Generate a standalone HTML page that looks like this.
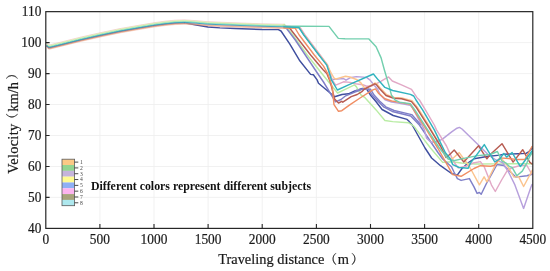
<!DOCTYPE html>
<html><head><meta charset="utf-8"><title>Velocity vs traveling distance</title>
<style>html,body{margin:0;padding:0;background:#fff}body{width:550px;height:271px;overflow:hidden;position:relative}</style></head>
<body>
<svg width="550" height="271" viewBox="0 0 550 271" style="position:absolute;left:0;top:0">
<rect width="550" height="271" fill="#fff"/>
<path d="M99.9 11.65 V228.4 M154.0 11.65 V228.4 M208.1 11.65 V228.4 M262.2 11.65 V228.4 M316.4 11.65 V228.4 M370.5 11.65 V228.4 M424.6 11.65 V228.4 M478.7 11.65 V228.4 M45.8 197.4 H532.8 M45.8 166.5 H532.8 M45.8 135.5 H532.8 M45.8 104.5 H532.8 M45.8 73.6 H532.8 M45.8 42.6 H532.8" stroke="#ededed" stroke-width="0.8" fill="none"/>
<clipPath id="c"><rect x="45.8" y="11.65" width="486.99999999999994" height="216.75"/></clipPath>
<g clip-path="url(#c)" fill="none" stroke-width="1.45" stroke-linejoin="round" stroke-linecap="round">
<polyline stroke="#3f4f9f" points="47.0,46.0 48.5,47.7 50.0,47.7 60.0,45.3 80.0,40.3 100.0,35.7 120.0,31.5 140.0,28.0 153.7,25.7 165.0,24.2 175.0,23.2 184.5,22.8 195.0,24.7 208.0,27.0 220.0,27.9 235.0,28.5 262.0,29.5 278.3,29.6 281.0,31.0 289.7,43.9 299.4,60.2 310.6,74.4 313.4,74.8 317.1,79.9 318.5,83.3 334.6,96.8 342.0,94.5 348.4,93.8 354.9,91.0 362.3,88.5 366.5,88.9 370.6,95.3 375.7,101.2 382.1,109.5 393.2,115.5 407.1,119.4 409.3,121.6 412.2,125.0 425.0,148.0 431.6,158.0 440.5,165.7 451.5,173.5 457.1,175.3 462.0,168.5 468.5,162.5 474.0,158.8 486.9,156.5 499.8,155.1 503.8,154.3 517.7,153.8 526.0,153.4 529.0,151.5 532.0,148.3"/>
<polyline stroke="#b9eca4" points="283.0,25.1 284.4,24.4 292.8,35.0 307.2,55.0 320.2,71.5 337.6,93.0 345.7,89.1 354.5,84.9 356.3,86.6 360.9,94.9 365.0,97.7 371.6,105.0 376.1,109.9 384.9,120.5 392.7,121.6 408.2,122.7 413.7,126.0 420.4,134.9 430.5,148.0 442.7,162.4 451.5,161.8 461.5,163.0 474.8,164.0 499.8,163.9 532.0,163.7"/>
<polyline stroke="#7f7fc8" points="284.0,27.4 286.6,28.5 295.3,40.0 318.0,74.0 323.5,82.0 335.5,101.8 341.0,99.5 345.7,95.8 354.9,92.1 362.3,89.4 368.5,89.3 372.3,95.3 378.0,101.2 384.0,107.2 393.2,111.8 410.7,116.0 419.4,125.0 434.9,148.0 438.3,153.0 442.7,159.0 451.5,166.8 454.0,172.0 457.4,178.6 461.1,180.4 469.4,178.6 474.0,186.9 477.1,193.4 479.4,192.5 481.2,194.3 486.8,182.8 497.0,164.5 503.8,165.5 515.8,177.1 526.9,175.7 532.0,174.2"/>
<polyline stroke="#7f7fc8" points="355.0,91.2 363.0,88.6 370.5,89.3 374.3,95.3 379.8,101.2 385.8,106.8 394.1,110.5 411.7,114.6 420.6,124.4"/>
<polyline stroke="#b7a0dc" points="284.0,26.7 297.0,27.2 299.3,27.5 304.2,35.0 319.3,55.0 327.1,65.1 329.8,73.5 331.8,79.5 335.0,79.4 343.5,78.5 346.0,80.2 350.0,77.8 356.3,76.6 366.5,77.4 370.1,80.1 373.8,84.8 377.8,89.5 380.0,94.5 385.0,99.8 391.6,102.0 398.2,103.1 410.4,105.4 412.6,108.0 424.4,129.9 426.6,138.3 431.0,142.3 436.0,141.8 442.1,139.4 452.0,131.6 457.0,128.2 459.4,127.4 462.0,129.0 482.3,148.7 489.0,155.4 496.0,160.0 502.9,162.8 508.5,172.0 514.9,184.9 523.6,208.4 530.7,187.8 532.0,184.5"/>
<polyline stroke="#e2a9c6" points="284.0,26.0 300.0,27.5 305.0,35.0 320.1,55.0 327.7,65.1 330.2,73.5 332.2,79.9 335.7,85.2 343.5,81.8 350.1,82.4 355.4,83.8 362.8,84.8 366.7,86.3 372.0,85.8 376.1,83.8 381.2,81.1 386.7,77.8 388.6,77.0 392.3,81.0 401.5,84.9 411.5,89.4 417.0,97.7 419.4,100.0 424.8,108.8 434.3,125.0 436.5,129.9 446.5,146.0 450.4,154.6 454.6,163.0 458.2,167.9 465.9,166.3 473.1,163.0 480.4,161.6 484.1,166.6 491.5,185.1 495.3,191.5 501.6,180.0 507.5,170.1 513.0,167.5 520.4,165.5 526.9,165.5 530.6,172.0 532.0,174.0"/>
<polyline stroke="#fbc48e" points="284.0,28.1 299.5,27.8 304.2,35.0 319.3,55.0 326.8,64.2 331.4,73.5 334.1,78.1 335.7,79.2 337.8,78.4 345.5,76.2 349.8,77.0 357.2,79.7 360.9,82.9 364.6,88.0 366.0,88.6 374.9,83.0 376.7,83.6 380.2,88.0 386.7,94.8 394.2,97.5 401.8,98.0 412.0,100.8 417.3,107.2 429.0,125.6 431.0,129.6 444.0,152.0 448.0,158.5 452.7,158.5 459.2,152.6 467.2,163.5 471.3,170.0 479.4,184.8 484.1,176.8 486.9,181.8 495.8,164.2 501.0,158.0 506.6,164.6 514.0,177.1 518.6,176.6 523.6,186.5 532.4,170.1"/>
<polyline stroke="#b75c52" points="284.0,27.2 289.4,27.7 295.0,35.0 310.6,55.0 323.1,69.8 326.8,73.5 329.5,79.9 331.0,84.5 334.6,99.1 338.5,103.0 341.8,101.3 342.8,102.2 351.2,96.6 357.2,94.5 362.3,91.3 364.5,89.0 374.8,83.8 376.1,84.4 379.4,88.5 386.0,95.5 393.8,98.3 401.5,98.8 411.5,101.6 416.6,107.8 428.2,126.2 440.5,146.0 446.0,157.5 450.0,154.2 454.2,150.0 463.8,162.0 478.6,145.8 486.9,158.8 490.0,154.8 502.0,143.7 513.1,162.1 522.7,149.7 529.7,162.1 532.0,164.0"/>
<polyline stroke="#f08e64" points="284.0,27.8 295.0,28.0 299.2,35.0 314.3,55.0 323.5,66.1 327.7,73.5 330.0,79.9 332.4,88.0 334.0,104.6 338.5,111.3 341.8,110.7 350.1,104.6 360.1,98.0 372.3,90.2 375.5,88.9 378.4,93.1 384.9,98.8 391.6,101.0 398.2,102.1 410.4,104.4 413.7,109.9 426.6,129.9 437.7,148.0 447.1,164.6 452.7,174.6 461.1,176.3 474.0,168.5 480.4,165.7 490.6,166.2 494.3,165.5 499.8,157.9 508.5,158.5 515.8,159.4 525.0,159.4 532.0,146.5"/>
<polyline stroke="#73cfae" points="284.0,26.1 300.0,26.2 329.0,26.4 338.3,38.4 345.0,38.8 368.9,38.9 376.1,46.8 381.1,57.9 384.4,70.0 388.8,84.9 391.4,94.9 394.9,99.9 399.3,102.1 410.4,103.8 414.8,109.9 427.7,129.9 439.4,148.0 448.2,159.0 453.8,160.7 463.8,158.4 477.7,155.6 490.0,154.5 497.4,151.5 502.0,161.2 505.7,162.8 509.4,166.5 512.1,167.4 516.8,175.7 522.3,171.1 526.9,162.8 530.0,156.0 532.0,153.0"/>
<polyline stroke="#30b3be" points="284.0,26.8 298.9,27.5 303.8,35.0 318.9,55.0 326.8,65.1 329.5,73.5 331.4,79.9 337.4,90.0 348.0,85.2 373.4,74.0 378.4,80.1 384.9,87.4 392.7,90.5 410.4,94.4 413.7,96.0 416.0,100.0 422.6,109.9 434.3,129.9 445.4,152.7 450.4,159.0 452.7,164.6 459.2,167.5 468.2,168.3 470.3,163.4 484.3,144.6 494.8,162.0 499.8,158.8 503.8,153.4 506.6,157.1 512.1,152.5 517.7,162.1 520.4,166.5 524.1,161.7 530.6,152.9 532.0,151.0"/>
<polyline stroke="#efb4b8" stroke-width="0.6" stroke-linecap="butt" points="47.0,43.0 48.5,44.8 50.0,44.8 60.0,42.3 80.0,37.3 100.0,32.8 120.0,28.6 140.0,25.1 153.7,22.8 165.0,21.2 175.0,20.2 184.5,19.9 195.0,20.6 207.8,21.7 235.0,22.8 262.0,23.8 284.0,24.2 284.3,24.2"/>
<polyline stroke="#e2f2a8" stroke-width="0.75" stroke-linecap="butt" points="47.0,43.6 48.5,45.3 50.0,45.3 60.0,42.9 80.0,37.9 100.0,33.3 120.0,29.1 140.0,25.6 153.7,23.3 165.0,21.8 175.0,20.8 184.5,20.4 195.0,21.1 207.8,22.2 235.0,23.3 262.0,24.3 284.0,24.8 284.3,24.8"/>
<polyline stroke="#b5eba6" stroke-width="0.75" stroke-linecap="butt" points="47.0,44.2 48.5,46.0 50.0,46.0 60.0,43.5 80.0,38.5 100.0,34.0 120.0,29.8 140.0,26.2 153.7,23.9 165.0,22.4 175.0,21.4 184.5,21.1 195.0,21.8 207.8,22.9 235.0,23.9 262.0,24.9 284.0,25.4 284.3,25.4"/>
<polyline stroke="#73cfae" stroke-width="0.75" stroke-linecap="butt" points="47.0,44.9 48.5,46.6 50.0,46.6 60.0,44.2 80.0,39.2 100.0,34.6 120.0,30.4 140.0,26.9 153.7,24.6 165.0,23.1 175.0,22.1 184.5,21.7 195.0,22.4 207.8,23.5 235.0,24.6 262.0,25.6 284.0,26.1 284.3,26.1"/>
<polyline stroke="#30b3be" stroke-width="0.95" stroke-linecap="butt" points="47.0,45.6 48.5,47.3 50.0,47.3 60.0,44.9 80.0,39.9 100.0,35.3 120.0,31.1 140.0,27.6 153.7,25.3 165.0,23.8 175.0,22.8 184.5,22.4 195.0,23.1 207.8,24.2 235.0,25.3 262.0,26.3 284.0,26.8 284.3,26.8"/>
<polyline stroke="#6f78c4" stroke-width="0.5" stroke-linecap="butt" points="47.0,46.2 48.5,47.9 50.0,47.9 60.0,45.5 80.0,40.5 100.0,35.9 120.0,31.7 140.0,28.2 153.7,25.9 165.0,24.4 175.0,23.4 184.5,23.0 195.0,23.7 207.8,24.8 235.0,25.9 262.0,26.9 284.0,27.4 284.3,27.4"/>
<polyline stroke="#f08e64" stroke-width="0.45" stroke-linecap="butt" points="47.0,46.5 48.5,48.2 50.0,48.2 60.0,45.8 80.0,40.8 100.0,36.2 120.0,32.0 140.0,28.6 153.7,26.2 165.0,24.8 175.0,23.8 184.5,23.4 195.0,24.1 207.8,25.2 235.0,26.2 262.0,27.2 284.0,27.8 284.3,27.8"/>
<polyline stroke="#f9b87e" stroke-width="0.6" stroke-linecap="butt" points="47.0,47.0 48.5,48.7 50.0,48.7 60.0,46.2 80.0,41.2 100.0,36.7 120.0,32.5 140.0,28.9 153.7,26.6 165.0,25.1 175.0,24.1 184.5,23.8 195.0,24.4 207.8,25.6 235.0,26.6 262.0,27.6 284.0,28.1 284.3,28.1"/>
<polyline stroke="#e07a6a" stroke-width="0.3" stroke-linecap="butt" points="47.0,47.4 48.5,49.1 50.0,49.1 60.0,46.6 80.0,41.6 100.0,37.1 120.0,32.9 140.0,29.4 153.7,27.1 165.0,25.6 175.0,24.6 184.5,24.2 195.0,24.9 207.8,26.0 235.0,27.1 262.0,28.1 284.0,28.6 284.3,28.6"/>
</g>
<rect x="45.8" y="11.65" width="486.99999999999994" height="216.75" fill="none" stroke="#262626" stroke-width="1.2"/>
<path d="M99.9 228.4 v-4.3 M154.0 228.4 v-4.3 M208.1 228.4 v-4.3 M262.2 228.4 v-4.3 M316.4 228.4 v-4.3 M370.5 228.4 v-4.3 M424.6 228.4 v-4.3 M478.7 228.4 v-4.3 M45.8 197.4 h3.8 M45.8 166.5 h3.8 M45.8 135.5 h3.8 M45.8 104.5 h3.8 M45.8 73.6 h3.8 M45.8 42.6 h3.8" stroke="#262626" stroke-width="1.1" fill="none"/>
<g font-family="'Liberation Serif', serif" font-size="14.1" fill="#1a1a1a" stroke="#1a1a1a" stroke-width="0.2">
<text transform="translate(45.8,243.75) scale(0.95,1)" text-anchor="middle">0</text>
<text transform="translate(99.9,243.75) scale(0.95,1)" text-anchor="middle">500</text>
<text transform="translate(154.0,243.75) scale(0.95,1)" text-anchor="middle">1000</text>
<text transform="translate(208.1,243.75) scale(0.95,1)" text-anchor="middle">1500</text>
<text transform="translate(262.2,243.75) scale(0.95,1)" text-anchor="middle">2000</text>
<text transform="translate(316.4,243.75) scale(0.95,1)" text-anchor="middle">2500</text>
<text transform="translate(370.5,243.75) scale(0.95,1)" text-anchor="middle">3000</text>
<text transform="translate(424.6,243.75) scale(0.95,1)" text-anchor="middle">3500</text>
<text transform="translate(478.7,243.75) scale(0.95,1)" text-anchor="middle">4000</text>
<text transform="translate(532.8,243.75) scale(0.95,1)" text-anchor="middle">4500</text>
<text transform="translate(41.3,233.1) scale(0.945,1)" text-anchor="end">40</text>
<text transform="translate(41.3,202.1) scale(0.945,1)" text-anchor="end">50</text>
<text transform="translate(41.3,171.2) scale(0.945,1)" text-anchor="end">60</text>
<text transform="translate(41.3,140.2) scale(0.945,1)" text-anchor="end">70</text>
<text transform="translate(41.3,109.2) scale(0.945,1)" text-anchor="end">80</text>
<text transform="translate(41.3,78.3) scale(0.945,1)" text-anchor="end">90</text>
<text transform="translate(41.3,47.3) scale(0.945,1)" text-anchor="end">100</text>
<text transform="translate(41.3,16.4) scale(0.945,1)" text-anchor="end">110</text>
</g>
<g font-family="'Liberation Serif', 'Noto Serif CJK SC', serif" font-size="14.4" fill="#1a1a1a" stroke="#1a1a1a" stroke-width="0.2">
<text x="218.2" y="263.8">Traveling distance<tspan dx="0.2" dy="-0.3" font-size="12.5">（</tspan><tspan dx="0.6" dy="0.3">m</tspan><tspan dx="2.1" dy="-0.3" font-size="12.5">）</tspan></text>
<text transform="translate(17.7,173.8) rotate(-90)"><tspan letter-spacing="0.28">Velocity</tspan><tspan dx="-2" dy="-0.3" font-size="12.5">（</tspan><tspan dx="1.4" dy="0.3">km/h</tspan><tspan dx="2.6" dy="-0.3" font-size="12.5">）</tspan></text>
</g>
<rect x="62.0" y="159.20" width="12.6" height="5.91" fill="#fbc986"/>
<rect x="62.0" y="165.01" width="12.6" height="5.91" fill="#93d491"/>
<rect x="62.0" y="170.82" width="12.6" height="5.91" fill="#c5b4dc"/>
<rect x="62.0" y="176.64" width="12.6" height="5.91" fill="#fffb93"/>
<rect x="62.0" y="182.45" width="12.6" height="5.91" fill="#8fb0f5"/>
<rect x="62.0" y="188.26" width="12.6" height="5.91" fill="#fdb4f0"/>
<rect x="62.0" y="194.07" width="12.6" height="5.91" fill="#a8a37d"/>
<rect x="62.0" y="199.89" width="12.6" height="5.91" fill="#aee8ee"/>
<rect x="62.0" y="159.2" width="12.6" height="46.5" fill="none" stroke="#5a5a5a" stroke-width="0.8"/>
<path d="M74.6 162.11 h3.7" stroke="#333" stroke-width="0.9"/>
<text x="80" y="164.01" font-family="'Liberation Serif', serif" font-size="5.6" fill="#444">1</text>
<path d="M74.6 167.92 h3.7" stroke="#333" stroke-width="0.9"/>
<text x="80" y="169.82" font-family="'Liberation Serif', serif" font-size="5.6" fill="#444">2</text>
<path d="M74.6 173.73 h3.7" stroke="#333" stroke-width="0.9"/>
<text x="80" y="175.63" font-family="'Liberation Serif', serif" font-size="5.6" fill="#444">3</text>
<path d="M74.6 179.54 h3.7" stroke="#333" stroke-width="0.9"/>
<text x="80" y="181.44" font-family="'Liberation Serif', serif" font-size="5.6" fill="#444">4</text>
<path d="M74.6 185.36 h3.7" stroke="#333" stroke-width="0.9"/>
<text x="80" y="187.26" font-family="'Liberation Serif', serif" font-size="5.6" fill="#444">5</text>
<path d="M74.6 191.17 h3.7" stroke="#333" stroke-width="0.9"/>
<text x="80" y="193.07" font-family="'Liberation Serif', serif" font-size="5.6" fill="#444">6</text>
<path d="M74.6 196.98 h3.7" stroke="#333" stroke-width="0.9"/>
<text x="80" y="198.88" font-family="'Liberation Serif', serif" font-size="5.6" fill="#444">7</text>
<path d="M74.6 202.79 h3.7" stroke="#333" stroke-width="0.9"/>
<text x="80" y="204.69" font-family="'Liberation Serif', serif" font-size="5.6" fill="#444">8</text>
<text x="90.9" y="190.3" font-family="'Liberation Serif', serif" font-weight="bold" font-size="11.85" fill="#111">Different colors represent different subjects</text>
</svg>
</body></html>
